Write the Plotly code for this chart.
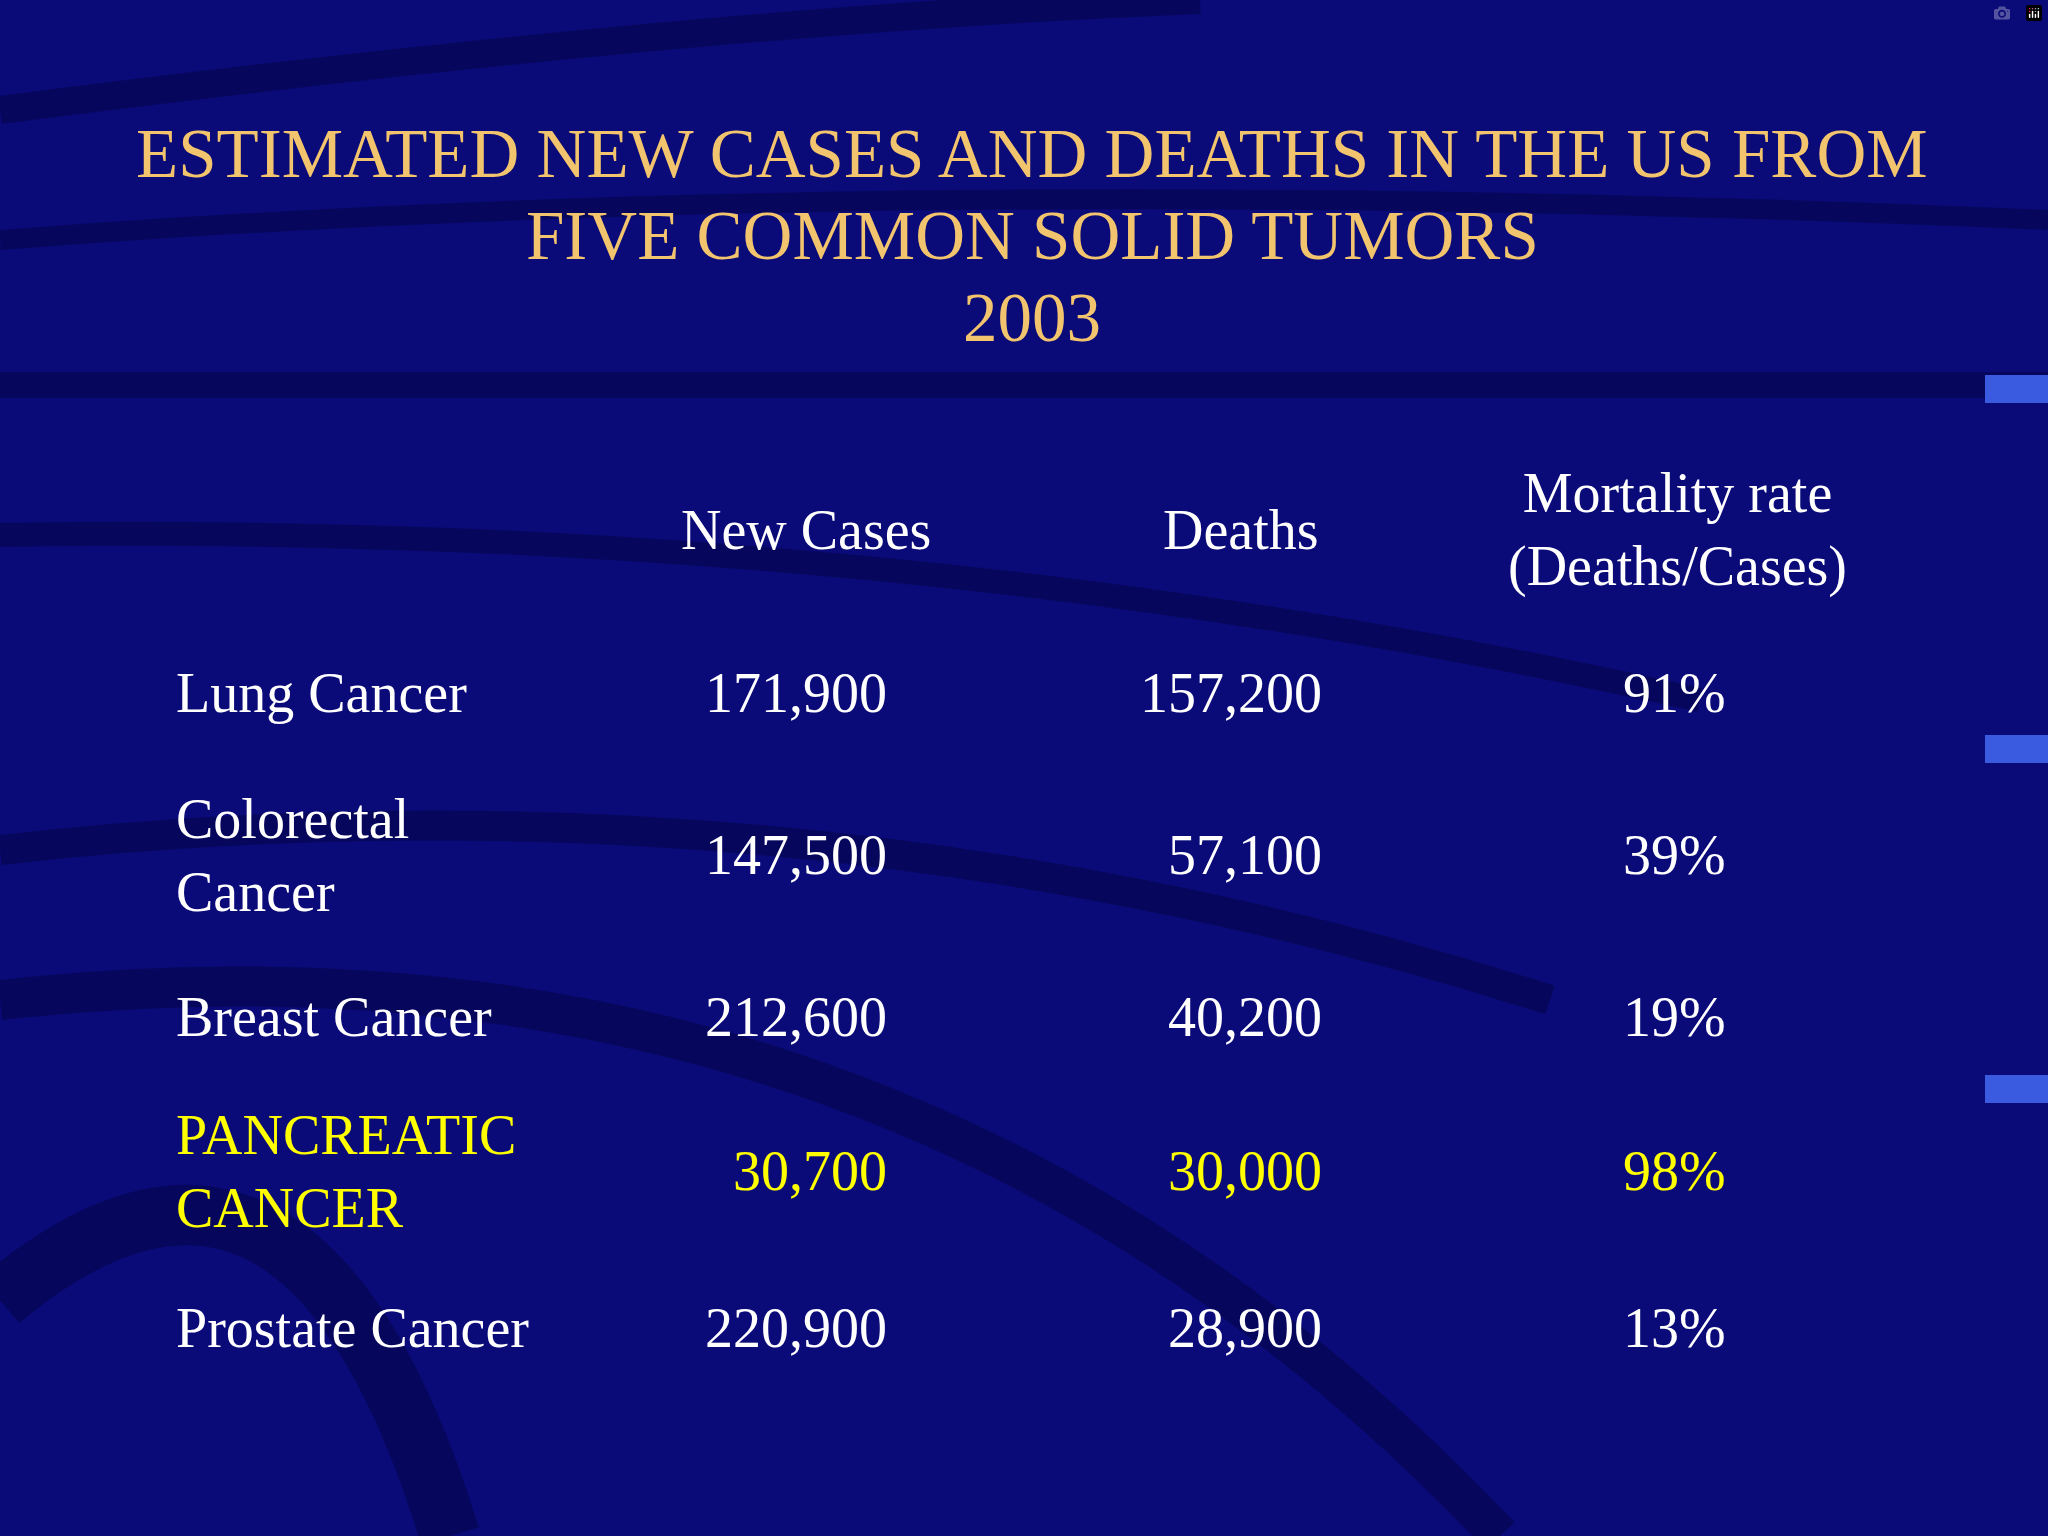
import plotly.graph_objects as go

title_lines = ["ESTIMATED NEW CASES AND DEATHS IN THE US FROM",
               "FIVE COMMON SOLID TUMORS", "2003"]
headers = ["New Cases", "Deaths", "Mortality rate<br>(Deaths/Cases)"]
tumors = ["Lung Cancer", "Colorectal<br>Cancer", "Breast Cancer",
          "PANCREATIC<br>CANCER", "Prostate Cancer"]
new_cases = ["171,900", "147,500", "212,600", "30,700", "220,900"]
deaths = ["157,200", "57,100", "40,200", "30,000", "28,900"]
mortality = ["91%", "39%", "19%", "98%", "13%"]
highlight = "PANCREATIC<br>CANCER"

W, H = 2048, 1536
font = "Liberation Serif, Times New Roman, serif"
gold = "#f2c46e"

fig = go.Figure()
fig.update_layout(
    width=W, height=H, margin=dict(l=0, r=0, t=0, b=0),
    paper_bgcolor="#0a0a78", plot_bgcolor="#0a0a78",
    xaxis=dict(range=[0, W], visible=False, fixedrange=True),
    yaxis=dict(range=[H, 0], visible=False, fixedrange=True),
    showlegend=False,
)

# soft dark swooshes in the background
swooshes = [
    ("M 0 110 Q 700 20 1200 0", 28),
    ("M 0 240 Q 900 170 2048 220", 20),
    ("M 0 385 L 2048 385", 26),
    ("M 0 535 Q 900 520 1700 700", 24),
    ("M 0 850 Q 800 760 1550 1000", 30),
    ("M 0 1000 Q 900 900 1500 1536", 40),
    ("M 0 1300 Q 300 1050 450 1536", 60),
]
for path, w in swooshes:
    fig.add_shape(type="path", path=path, line=dict(color="rgba(0,0,30,0.3)", width=w),
                  layer="below")

# side accent marks
for y0 in [375, 735, 1075]:
    fig.add_shape(type="rect", x0=1985, x1=2048, y0=y0, y1=y0 + 28,
                  fillcolor="#3a5ae0", line=dict(width=0), layer="below")

for i, line in enumerate(title_lines):
    fig.add_annotation(x=W / 2 + 8, y=154 + i * 82, text=line, showarrow=False,
                       font=dict(family=font, size=69, color=gold))

hx = [806, 1241, 1677]
for x, h in zip(hx, headers):
    fig.add_annotation(x=x, y=530, text=h, showarrow=False,
                       font=dict(family=font, size=56, color="white"),
                       align="center")

row_y = [693, 855, 1017, 1171, 1328]
for y, t, n, d, m in zip(row_y, tumors, new_cases, deaths, mortality):
    c = "#ffff00" if t == highlight else "white"
    f = dict(family=font, size=56, color=c)
    fig.add_annotation(x=174, y=y, text=t, showarrow=False, xanchor="left",
                       align="left", font=f)
    fig.add_annotation(x=889, y=y, text=n, showarrow=False, xanchor="right", font=f)
    fig.add_annotation(x=1324, y=y, text=d, showarrow=False, xanchor="right", font=f)
    fig.add_annotation(x=1728, y=y, text=m, showarrow=False, xanchor="right", font=f)

fig.write_html("out.html", post_script="document.body.style.margin='0';")
